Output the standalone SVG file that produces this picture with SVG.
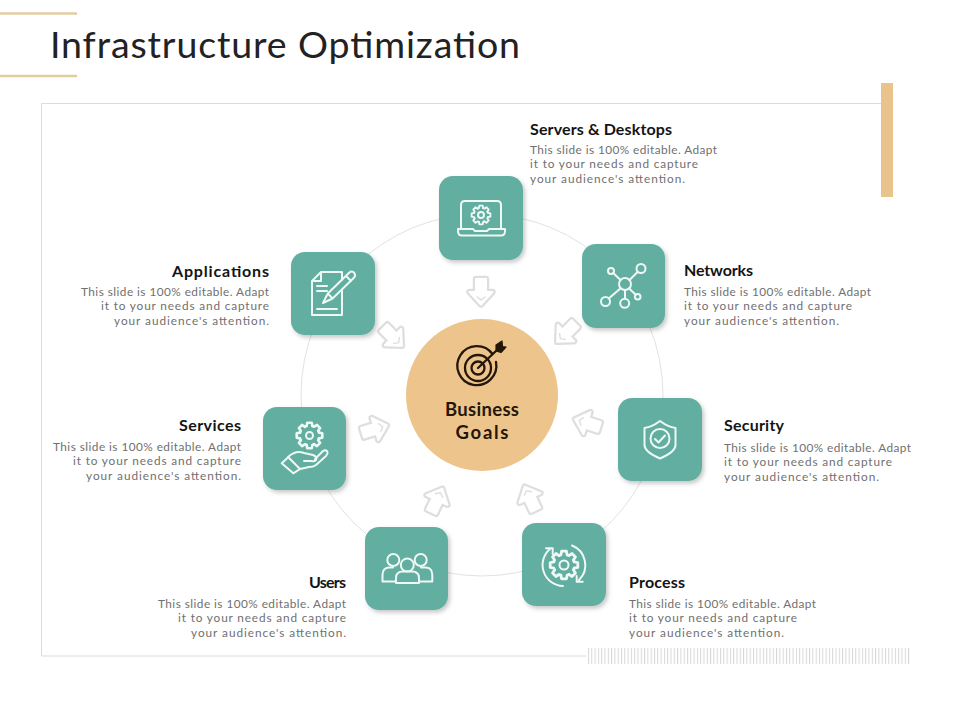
<svg xmlns="http://www.w3.org/2000/svg" xmlns:xlink="http://www.w3.org/1999/xlink" width="960" height="720" viewBox="0 0 960 720">
<style>
text{font-family:"Lato","Liberation Sans",sans-serif}
.title{font-size:37.500px;fill:#222;font-weight:400}
.h{font-size:16px;font-weight:700;fill:#141414}
.b{font-size:11.800px;fill:#707070}
.e{text-anchor:end}
.g{font-size:18.500px;font-weight:700;fill:#24170a;text-anchor:middle}
.card{fill:#62afa1;filter:url(#sh)}
.i{fill:none;stroke:#eef8f5;stroke-width:2;stroke-linecap:round;stroke-linejoin:round}
.i *{vector-effect:non-scaling-stroke}
.t{fill:none;stroke:#24170a;stroke-width:2.300;stroke-linecap:round;stroke-linejoin:round}
.a{fill:#dedede;stroke:#dedede;stroke-width:6.500;stroke-linejoin:round}
.a1{fill:#fff;stroke:#fff;stroke-width:2;stroke-linejoin:round}
.a2{fill:none;stroke:#dedede;stroke-width:1.400;stroke-linecap:round}
.rule{stroke:#e3cda0;stroke-width:2.600}
</style>
<defs>
<filter id="sh" x="-20%" y="-20%" width="150%" height="150%"><feDropShadow dx="2" dy="2.500" stdDeviation="2.200" flood-color="#000" flood-opacity=".22"/></filter>
<pattern id="hatch" x="588" y="648" width="3.300" height="16" patternUnits="userSpaceOnUse"><rect width="1" height="16" fill="#d6d6d6"/></pattern>
<g id="gs"><path id="gt" d="M6.710-3.570A7.600 7.600 0 0 1 7.270-2.220L9.850-1.740V1.740L7.270 2.220"/></g>
<g id="gear"><use xlink:href="#gt"/><use xlink:href="#gt" transform="rotate(45)"/><use xlink:href="#gt" transform="rotate(90)"/><use xlink:href="#gt" transform="rotate(135)"/><use xlink:href="#gt" transform="rotate(180)"/><use xlink:href="#gt" transform="rotate(225)"/><use xlink:href="#gt" transform="rotate(270)"/><use xlink:href="#gt" transform="rotate(315)"/></g>
<path id="as" d="M-5-13H5V0H11.500L0 12.500-11.500 0H-5Z"/>
<g id="arr"><use xlink:href="#as" class="a"/><use xlink:href="#as" class="a1"/><path class="a2" d="M-4 5 0 8 4 5"/></g>
</defs>

<g id="frame" fill="none">
<path d="M881 103.500H41.500V656H586" stroke="#dcdcdc" stroke-width="1"/>
<line class="rule" x1="0" y1="13.500" x2="77" y2="13.500"/>
<line class="rule" x1="0" y1="76" x2="77" y2="76"/>
<rect x="881" y="83" width="12" height="114" fill="#e8c48c"/>
<rect x="588" y="648" width="322" height="16" fill="url(#hatch)"/>
</g>
<text id="title" class="title" x="50" y="58" textLength="470">Infrastructure Optimization</text>

<g id="connectors">
<circle cx="482" cy="395" r="181" fill="none" stroke="#e2e2e2" stroke-width="1"/>
<use xlink:href="#arr" transform="translate(481 292)"/>
<use xlink:href="#arr" transform="translate(393 337) rotate(-45)"/>
<use xlink:href="#arr" transform="translate(566 333) rotate(45)"/>
<use xlink:href="#arr" transform="translate(587 423) rotate(108)"/>
<use xlink:href="#arr" transform="translate(530 498) rotate(155)"/>
<use xlink:href="#arr" transform="translate(437 500) rotate(205)"/>
<use xlink:href="#arr" transform="translate(375 429) rotate(-107)"/>
</g>

<g id="center">
<circle cx="482" cy="395" r="76" fill="#edc48b"/>
<g class="t">
<path d="M492.500 354A19.500 19.500 0 1 0 496 362"/>
<circle cx="478" cy="368" r="13"/>
<circle cx="478" cy="368" r="6.500"/>
<path d="M478 368 497 350"/>
<path d="M496 351V345L502 341 502.500 346.500 506 347 501 352.500Z" fill="#24170a" stroke-width="1.200"/>
</g>
<text class="g" x="482" y="416" textLength="74">Business</text>
<text class="g" x="482" y="439" textLength="53">Goals</text>
</g>

<g id="servers">
<rect class="card" x="439" y="176" width="84" height="84" rx="14"/>
<g class="i">
<path d="M461 229V205Q461 201 465 201H497Q501 201 501 205V229"/>
<path d="M458 229H473L475 231H487L489 229H505V231Q505 235.500 501 235.500H462Q458 235.500 458 231Z"/>
<use xlink:href="#gear" transform="translate(481 215) scale(.95)"/><circle cx="481" cy="215" r="3"/>
</g>
<text class="h" x="530" y="135" textLength="142">Servers &amp; Desktops</text>
<text class="b" x="530" y="154" textLength="187">This slide is 100% editable. Adapt</text>
<text class="b" x="530" y="168" textLength="168">it to your needs and capture</text>
<text class="b" x="530" y="183" textLength="155">your audience's attention.</text>
</g>

<g id="networks">
<rect class="card" x="582" y="244" width="83" height="84" rx="14"/>
<g class="i">
<circle cx="625" cy="284" r="6"/><circle cx="641" cy="268.500" r="4.500"/><circle cx="611" cy="271" r="3"/><circle cx="605.500" cy="301.500" r="4.500"/><circle cx="624.700" cy="303.300" r="4.500"/><circle cx="637.700" cy="296.700" r="2.800"/>
<path d="M629.500 280 637.800 271.700M620.500 280 613.200 273M620.700 288.300 609 298.300M625 290V298.800M629.200 288.500 635.700 294.700"/>
</g>
<text class="h" x="684" y="276" textLength="69">Networks</text>
<text class="b" x="684" y="296" textLength="187">This slide is 100% editable. Adapt</text>
<text class="b" x="684" y="310" textLength="168">it to your needs and capture</text>
<text class="b" x="684" y="325" textLength="155">your audience's attention.</text>
</g>

<g id="security">
<rect class="card" x="618" y="398" width="84" height="83" rx="14"/>
<g class="i">
<path d="M660 421Q668 427 675.500 428V445Q675.500 452 660 458.500 644.500 452 644.500 445V428Q652 427 660 421Z"/>
<circle cx="660" cy="438.500" r="9.500"/>
<path d="M655 439 658.500 442.500 665 435.500"/>
</g>
<text class="h" x="724" y="431" textLength="60">Security</text>
<text class="b" x="724" y="452" textLength="187">This slide is 100% editable. Adapt</text>
<text class="b" x="724" y="466" textLength="168">it to your needs and capture</text>
<text class="b" x="724" y="481" textLength="155">your audience's attention.</text>
</g>

<g id="process">
<rect class="card" x="522" y="523" width="84" height="83" rx="14"/>
<g class="i">
<use xlink:href="#gear" transform="translate(564 565) scale(1.400)"/><circle cx="564" cy="565" r="4.500"/>
<path d="M572 545.500A21 21 0 0 1 579 580M576.700 576V581.700H582.700"/>
<path d="M563 586A21 21 0 0 1 550 549M546 548.300H552.700V554"/>
</g>
<text class="h" x="629" y="588" textLength="56">Process</text>
<text class="b" x="629" y="608" textLength="187">This slide is 100% editable. Adapt</text>
<text class="b" x="629" y="622" textLength="168">it to your needs and capture</text>
<text class="b" x="629" y="637" textLength="155">your audience's attention.</text>
</g>

<g id="users">
<rect class="card" x="365" y="527" width="83" height="83" rx="14"/>
<g class="i">
<circle cx="393.300" cy="560" r="6"/><circle cx="420.700" cy="560" r="6"/><circle cx="407.300" cy="565" r="6.500"/>
<path d="M396 583V578Q396 571.500 403 571.500H412Q419 571.500 419 578V583Z"/>
<path d="M396 581.500H382.500V575Q382.500 568 389 567.500H393"/>
<path d="M419 581.500H432.300V575Q432.300 568 426 567.500H421"/>
</g>
<text class="h e" x="346" y="588" textLength="37">Users</text>
<text class="b e" x="346" y="608" textLength="188">This slide is 100% editable. Adapt</text>
<text class="b e" x="346" y="622" textLength="168">it to your needs and capture</text>
<text class="b e" x="346" y="637" textLength="155">your audience's attention.</text>
</g>

<g id="services">
<rect class="card" x="263" y="407" width="83" height="83" rx="14"/>
<g class="i">
<use xlink:href="#gear" transform="translate(309.500 435.500) scale(1.300)"/><circle cx="309.500" cy="435.500" r="3.500"/>
<path d="M281.700 463.300 288.300 457.300 300 469 293.300 473.300Z"/>
<path d="M288 457Q296 450 304 453L313 455Q318 457 316 460 314 462 311 461L304 461M315 459 323 451Q326 449 327.500 452 328 454 326 456L316 465Q313 467 309 467L300 469"/>
</g>
<text class="h e" x="241" y="431" textLength="62">Services</text>
<text class="b e" x="241" y="451" textLength="188">This slide is 100% editable. Adapt</text>
<text class="b e" x="241" y="465" textLength="168">it to your needs and capture</text>
<text class="b e" x="241" y="480" textLength="155">your audience's attention.</text>
</g>

<g id="applications">
<rect class="card" x="291" y="252" width="84" height="83" rx="14"/>
<g class="i">
<path d="M342 280V272H321L312 281V315H342V290M321 272V281H312"/>
<path d="M317 286H327M317 291H327M317 309H337"/>
<path d="M323 303 327.800 293.500 349.400 272.500Q352 270.500 354.200 272.800 356 275 354.200 277.500L332.600 298.500ZM327.800 293.500 332.600 298.500M346 276 351 281"/>
</g>
<text class="h e" x="269" y="277" textLength="97">Applications</text>
<text class="b e" x="269" y="296" textLength="188">This slide is 100% editable. Adapt</text>
<text class="b e" x="269" y="310" textLength="168">it to your needs and capture</text>
<text class="b e" x="269" y="325" textLength="155">your audience's attention.</text>
</g>
</svg>
